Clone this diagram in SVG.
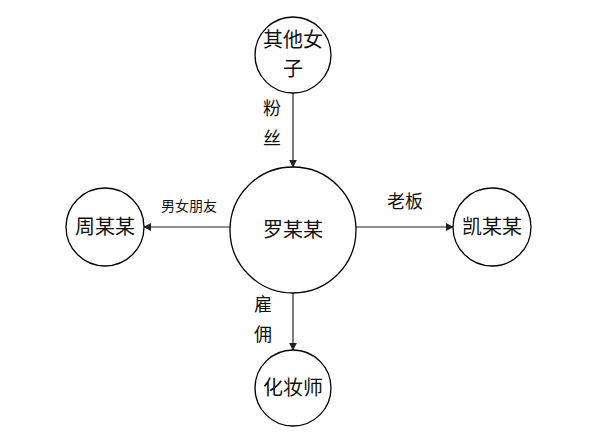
<svg xmlns="http://www.w3.org/2000/svg" width="600" height="445" viewBox="0 0 600 445">
<style>
.n{fill:#fff;stroke:#000;stroke-width:1.3}
.t{font-family:"Noto Sans CJK SC",sans-serif;font-size:20px;fill:#111;text-anchor:middle}
.l{font-family:"Noto Sans CJK SC",sans-serif;font-size:18px;fill:#111;text-anchor:middle}
.c{stroke:#222;stroke-width:1.2;fill:none;marker-end:url(#a)}
</style>
<defs><marker id="a" viewBox="0 0 10 10" refX="9" refY="5" markerWidth="8" markerHeight="8" orient="auto" markerUnits="userSpaceOnUse"><path d="M0,0L10,5L0,10z" fill="#222"/></marker></defs>
<rect width="600" height="445" fill="#fff"/>
<g id="connectors">
<line class="c" x1="293" y1="93" x2="293" y2="167"/>
<line class="c" x1="230" y1="227" x2="144" y2="227"/>
<line class="c" x1="356" y1="227" x2="453" y2="227"/>
<line class="c" x1="293" y1="293" x2="293" y2="350"/>
<text class="l" x="272" y="115">粉</text><text class="l" x="272" y="145">丝</text>
<text class="l" x="189" y="211" style="font-size:14px">男女朋友</text>
<text class="l" x="405" y="208">老板</text>
<text class="l" x="263" y="311">雇</text><text class="l" x="263" y="341">佣</text>
</g>
<g id="top"><circle class="n" cx="293" cy="55" r="38"/><text class="t" x="293" y="47">其他女</text><text class="t" x="293" y="76">子</text></g>
<g id="center"><circle class="n" cx="293" cy="230" r="63"/><text class="t" x="293" y="237">罗某某</text></g>
<g id="left"><circle class="n" cx="105" cy="227" r="39"/><text class="t" x="105" y="234">周某某</text></g>
<g id="right"><circle class="n" cx="492" cy="227" r="39"/><text class="t" x="492" y="234">凯某某</text></g>
<g id="bottom"><circle class="n" cx="293" cy="388" r="38"/><text class="t" x="293" y="395">化妆师</text></g>
</svg>
